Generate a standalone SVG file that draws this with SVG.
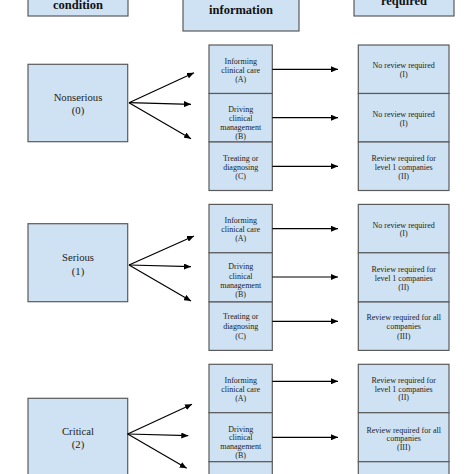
<svg xmlns="http://www.w3.org/2000/svg" width="474" height="474" viewBox="0 0 474 474">
<defs>
<style>
.box{fill:#cfe2f3;stroke:#5a5a5a;stroke-width:1.2}
.t{font-family:"Liberation Serif","Times New Roman",serif;font-size:8px;fill:#222;text-anchor:middle}
.L{font-family:"Liberation Serif","Times New Roman",serif;font-size:10.7px;fill:#222;text-anchor:middle}
.H{font-family:"Liberation Serif","Times New Roman",serif;font-size:12.5px;font-weight:bold;fill:#111;text-anchor:middle}
.c{stroke:#000;stroke-width:1.2;fill:none;marker-end:url(#ah)}
</style>
<marker id="ah" markerUnits="userSpaceOnUse" markerWidth="8" markerHeight="6" refX="7" refY="3" orient="auto">
<path d="M0,0 L7,3 L0,6 Z" fill="#000"/>
</marker>
</defs>
<rect width="474" height="474" fill="#fff"/>

<g id="hdr-condition"><rect class="box" x="28" y="-20" width="100" height="36"/><text class="H" x="78" y="8.5">condition</text></g>
<g id="hdr-information"><rect class="box" x="183" y="-20" width="116" height="51"/><text class="H" x="241" y="13.5">information</text></g>
<g id="hdr-required"><rect class="box" x="354" y="-20" width="100" height="36"/><text class="H" x="404" y="5">required</text></g>

<!-- Section 1 -->
<g id="nonserious"><rect class="box" x="28" y="64.3" width="99.7" height="77.4"/><text class="L" x="78" y="100.5">Nonserious</text><text class="L" x="78" y="114">(0)</text></g>
<g id="s1-A"><rect class="box" x="209" y="45" width="63.3" height="48.5"/><text class="t" x="240.7" y="63.8">Informing</text><text class="t" x="240.7" y="72.6">clinical care</text><text class="t" x="240.7" y="81.8">(A)</text></g>
<g id="s1-B"><rect class="box" x="209" y="93.5" width="63.3" height="48.5"/><text class="t" x="240.7" y="111.5">Driving</text><text class="t" x="240.7" y="120.8">clinical</text><text class="t" x="240.7" y="130.2">management</text><text class="t" x="240.7" y="139.2">(B)</text></g>
<g id="s1-C"><rect class="box" x="209" y="142" width="63.3" height="48.5"/><text class="t" x="240.7" y="160.8">Treating or</text><text class="t" x="240.7" y="169.8">diagnosing</text><text class="t" x="240.7" y="179.2">(C)</text></g>
<g id="s1-R1"><rect class="box" x="358.3" y="45" width="90.7" height="48.5"/><text class="t" x="403.7" y="68.2">No review required</text><text class="t" x="403.7" y="76.5">(I)</text></g>
<g id="s1-R2"><rect class="box" x="358.3" y="93.5" width="90.7" height="48.5"/><text class="t" x="403.7" y="116.5">No review required</text><text class="t" x="403.7" y="125.8">(I)</text></g>
<g id="s1-R3"><rect class="box" x="358.3" y="142" width="90.7" height="48.5"/><text class="t" x="403.7" y="160.8">Review required for</text><text class="t" x="403.7" y="169.8">level 1 companies</text><text class="t" x="403.7" y="179.2">(II)</text></g>

<!-- Section 2 -->
<g id="serious"><rect class="box" x="28" y="223.7" width="99.7" height="78"/><text class="L" x="78" y="261">Serious</text><text class="L" x="78" y="274.5">(1)</text></g>
<g id="s2-A"><rect class="box" x="209" y="204.4" width="63.3" height="48.4"/><text class="t" x="240.7" y="222.5">Informing</text><text class="t" x="240.7" y="231.8">clinical care</text><text class="t" x="240.7" y="240.8">(A)</text></g>
<g id="s2-B"><rect class="box" x="209" y="252.8" width="63.3" height="49.2"/><text class="t" x="240.7" y="269.2">Driving</text><text class="t" x="240.7" y="278.5">clinical</text><text class="t" x="240.7" y="287.5">management</text><text class="t" x="240.7" y="296.5">(B)</text></g>
<g id="s2-C"><rect class="box" x="209" y="302" width="63.3" height="48.4"/><text class="t" x="240.7" y="319.2">Treating or</text><text class="t" x="240.7" y="329.2">diagnosing</text><text class="t" x="240.7" y="338.5">(C)</text></g>
<g id="s2-R1"><rect class="box" x="358.3" y="204.4" width="90.7" height="48.4"/><text class="t" x="403.7" y="227.5">No review required</text><text class="t" x="403.7" y="235.8">(I)</text></g>
<g id="s2-R2"><rect class="box" x="358.3" y="252.8" width="90.7" height="49.2"/><text class="t" x="403.7" y="271.5">Review required for</text><text class="t" x="403.7" y="280.8">level 1 companies</text><text class="t" x="403.7" y="289.8">(II)</text></g>
<g id="s2-R3"><rect class="box" x="358.3" y="302" width="90.7" height="48.4"/><text class="t" x="403.7" y="319.8">Review required for all</text><text class="t" x="403.7" y="329.2">companies</text><text class="t" x="403.7" y="338.5">(III)</text></g>

<!-- Section 3 -->
<g id="critical"><rect class="box" x="28" y="398.3" width="99.7" height="90"/><text class="L" x="78" y="435">Critical</text><text class="L" x="78" y="447.6">(2)</text></g>
<g id="s3-A"><rect class="box" x="209" y="364.3" width="63.3" height="48.4"/><text class="t" x="240.7" y="383.2">Informing</text><text class="t" x="240.7" y="391.8">clinical care</text><text class="t" x="240.7" y="400.8">(A)</text></g>
<g id="s3-B"><rect class="box" x="209" y="412.7" width="63.3" height="49"/><text class="t" x="240.7" y="431.5">Driving</text><text class="t" x="240.7" y="439.8">clinical</text><text class="t" x="240.7" y="449.2">management</text><text class="t" x="240.7" y="458.2">(B)</text></g>
<g id="s3-C"><rect class="box" x="209" y="461.7" width="63.3" height="48.4"/></g>
<g id="s3-R1"><rect class="box" x="358.3" y="364.3" width="90.7" height="48.4"/><text class="t" x="403.7" y="383.2">Review required for</text><text class="t" x="403.7" y="391.5">level 1 companies</text><text class="t" x="403.7" y="399.8">(II)</text></g>
<g id="s3-R2"><rect class="box" x="358.3" y="412.7" width="90.7" height="49"/><text class="t" x="403.7" y="432.5">Review required for all</text><text class="t" x="403.7" y="440.8">companies</text><text class="t" x="403.7" y="449.8">(III)</text></g>
<g id="s3-R3"><rect class="box" x="358.3" y="461.7" width="90.7" height="48.4"/></g>

<g id="connectors">
<line class="c" x1="129" y1="102.7" x2="194" y2="72.7"/>
<line class="c" x1="129" y1="102.7" x2="191" y2="104.3"/>
<line class="c" x1="129" y1="102.7" x2="191" y2="138.7"/>
<line class="c" x1="272.3" y1="69.3" x2="338" y2="69.3"/>
<line class="c" x1="272.3" y1="117.7" x2="338" y2="117.7"/>
<line class="c" x1="272.3" y1="166.3" x2="338" y2="166.3"/>

<line class="c" x1="129" y1="265" x2="194" y2="236"/>
<line class="c" x1="129" y1="265" x2="191" y2="266.7"/>
<line class="c" x1="129" y1="265" x2="191" y2="301"/>
<line class="c" x1="272.3" y1="228.7" x2="338" y2="228.7"/>
<line class="c" x1="272.3" y1="277" x2="338" y2="277"/>
<line class="c" x1="272.3" y1="321.3" x2="338" y2="321.3"/>

<line class="c" x1="127.7" y1="434" x2="192" y2="404.3"/>
<line class="c" x1="127.7" y1="434" x2="188.3" y2="435.7"/>
<line class="c" x1="127.7" y1="434" x2="186.7" y2="468.3"/>
<line class="c" x1="272.3" y1="381.3" x2="338" y2="381.3"/>
<line class="c" x1="272.3" y1="437.3" x2="338" y2="437.3"/>
</g>
</svg>
